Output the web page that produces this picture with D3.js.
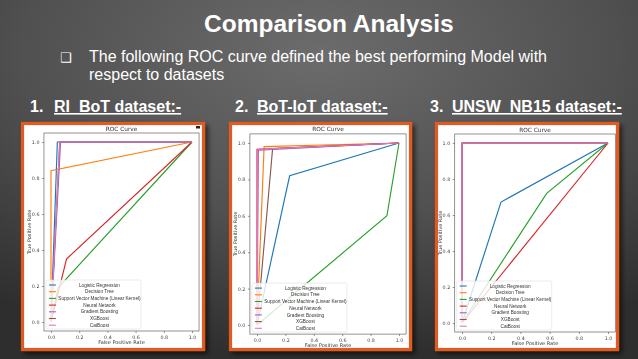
<!DOCTYPE html>
<html>
<head>
<meta charset="utf-8">
<script src="https://cdn.jsdelivr.net/npm/d3@7"></script>
<style>
html, body { margin: 0; padding: 0; background: #3a3a3a; overflow: hidden; }
svg { display: block; }
</style>
</head>
<body>
<div id="chart"></div>
<script>
const W = 638, H = 359;

// data
const models = ["Logistic Regression", "Decision Tree", "Support Vector Machine (Linear Kernel)",
  "Neural Network", "Gradient Boosting", "XGBoost", "CatBoost"];
const modelColors = ["#1f77b4", "#ff7f0e", "#2ca02c", "#d62728", "#9467bd", "#8c564b", "#e377c2"];
const headNumbers = ["1.", "2.", "3."];
const headNames = ["RI_BoT dataset:-", "BoT-IoT dataset:-", "UNSW_NB15 dataset:-"];
const rocTicks = [0, 0.2, 0.4, 0.6, 0.8, 1.0];

// [fpr, tpr] points, one list per model
const riBotCurves = [
  [[0, 0], [0.045, 1], [1, 1]],
  [[0, 0], [0, 0.84], [1, 1]],
  [[0, 0], [0.05, 0.19], [1, 1]],
  [[0, 0], [0.11, 0.35], [1, 1]],
  [[0, 0], [0.068, 1], [1, 1]],
  [[0, 0], [0.062, 1], [1, 1]],
  [[0, 0], [0.062, 1], [1, 1]]
];
const botIotCurves = [
  [[0, 0], [0.23, 0.82], [1, 1]],
  [[0, 0], [0.05, 0.98], [1, 1]],
  [[0, 0], [0.915, 0.6], [1, 1]],
  [[0, 0], [0.0, 0.965], [1, 1]],
  [[0, 0], [0.01, 0.96], [1, 1]],
  [[0, 0], [0.11, 0.97], [1, 1]],
  [[0, 0], [0.005, 0.965], [1, 1]]
];
const unswCurves = [
  [[0, 0], [0.267, 0.672], [1, 1]],
  [[0, 0], [0, 1], [1, 1]],
  [[0, 0], [0.58, 0.72], [1, 1]],
  [[0, 0], [1, 1]],
  [[0, 0], [0, 1], [1, 1]],
  [[0, 0], [0, 1], [1, 1]],
  [[0, 0], [0, 1], [1, 1]]
];

// layout of the three pictures
const panels = [
  { curves: riBotCurves, bx: 21, by: 122, bw: 184, bh: 229, x0: 51, x1: 192, y0: 322, y1: 142, hx: 30, nx: 54, mark: true },
  { curves: botIotCurves, bx: 229, by: 122, bw: 183, bh: 229, x0: 257, x1: 399, y0: 325, y1: 143, hx: 235, nx: 257 },
  { curves: unswCurves, bx: 435, by: 122, bw: 184, bh: 229, x0: 462, x1: 608, y0: 323, y1: 143, hx: 430, nx: 452 }
];

const svg = d3.select("#chart").append("svg")
  .attr("width", W)
  .attr("height", H);

const defs = svg.append("defs");
const grad = defs.append("radialGradient")
  .attr("id", "bg")
  .attr("cx", "50%").attr("cy", "15%").attr("r", "85%");
grad.append("stop").attr("offset", "0%").attr("stop-color", "#6c6c6c");
grad.append("stop").attr("offset", "55%").attr("stop-color", "#505050");
grad.append("stop").attr("offset", "100%").attr("stop-color", "#2e2e2e");

const shadow = defs.append("filter").attr("id", "shadow")
  .attr("x", "-10%").attr("y", "-10%").attr("width", "125%").attr("height", "125%");
shadow.append("feDropShadow")
  .attr("dx", 3).attr("dy", 3).attr("stdDeviation", 2.5)
  .attr("flood-color", "#000").attr("flood-opacity", 0.6);

const soft = defs.append("filter").attr("id", "soft");
soft.append("feGaussianBlur").attr("stdDeviation", 0.25);

svg.append("rect").attr("width", W).attr("height", H).attr("fill", "url(#bg)");

// slide texts
svg.append("text")
  .attr("x", 204).attr("y", 32)
  .attr("font-family", "Liberation Sans, Arial, sans-serif")
  .attr("font-weight", "bold").attr("font-size", 24.5)
  .attr("fill", "#fff")
  .text("Comparison Analysis");

svg.append("text")
  .attr("x", 60).attr("y", 62)
  .attr("font-family", "DejaVu Sans, sans-serif")
  .attr("font-size", 13)
  .attr("fill", "#fff")
  .text("\u2751");

svg.append("text")
  .attr("x", 89).attr("y", 62)
  .attr("font-family", "Liberation Sans, Arial, sans-serif")
  .attr("font-size", 16).attr("fill", "#fff")
  .text("The following ROC curve defined the best performing Model with");
svg.append("text")
  .attr("x", 89).attr("y", 80)
  .attr("font-family", "Liberation Sans, Arial, sans-serif")
  .attr("font-size", 16).attr("fill", "#fff")
  .text("respect to datasets");

panels.forEach(function(p, i) {
  svg.append("text")
    .attr("x", p.hx).attr("y", 112)
    .attr("font-family", "Liberation Sans, Arial, sans-serif")
    .attr("font-weight", "bold").attr("font-size", 16).attr("fill", "#fff")
    .text(headNumbers[i]);
  svg.append("text")
    .attr("x", p.nx).attr("y", 112)
    .attr("font-family", "Liberation Sans, Arial, sans-serif")
    .attr("font-weight", "bold").attr("font-size", 16).attr("fill", "#fff")
    .style("text-decoration", "underline")
    .text(headNames[i]);
});

// one ROC picture
function drawPanel(p) {
  var g = svg.append("g");
  g.append("rect")
    .attr("x", p.bx + 1.5).attr("y", p.by + 1.5)
    .attr("width", p.bw - 3).attr("height", p.bh - 3)
    .attr("fill", "#fff")
    .attr("stroke", "#e05a24").attr("stroke-width", 3.2)
    .attr("filter", "url(#shadow)");
  if (p.mark) {
    g.append("rect")
      .attr("x", p.bx + p.bw - 9).attr("y", p.by + 4)
      .attr("width", 4).attr("height", 2.5)
      .attr("fill", "#222");
  }

  var x = d3.scaleLinear().domain([0, 1]).range([p.x0, p.x1]);
  var y = d3.scaleLinear().domain([0, 1]).range([p.y0, p.y1]);
  var fl = x(-0.05), fr = x(1.05), ft = y(1.05), fb = y(-0.05);

  var inner = g.append("g").attr("filter", "url(#soft)");

  var line = d3.line()
    .x(function(d) { return x(d[0]); })
    .y(function(d) { return y(d[1]); });

  inner.append("g").selectAll("path")
    .data(p.curves)
    .enter()
    .append("path")
    .attr("d", line)
    .attr("fill", "none")
    .attr("stroke", function(d, i) { return modelColors[i]; })
    .attr("stroke-width", 1.15);

  inner.append("rect")
    .attr("x", fl).attr("y", ft)
    .attr("width", fr - fl).attr("height", fb - ft)
    .attr("fill", "none").attr("stroke", "#666").attr("stroke-width", 0.7);

  var xAxis = inner.append("g")
    .attr("transform", "translate(0," + fb + ")")
    .call(d3.axisBottom(x).tickValues(rocTicks).tickFormat(d3.format(".1f")).tickSize(2).tickPadding(2.5));
  var yAxis = inner.append("g")
    .attr("transform", "translate(" + fl + ",0)")
    .call(d3.axisLeft(y).tickValues(rocTicks).tickFormat(d3.format(".1f")).tickSize(2).tickPadding(2.5));
  [xAxis, yAxis].forEach(function(a) {
    a.select(".domain").remove();
    a.selectAll("line").attr("stroke", "#555").attr("stroke-width", 0.6);
    a.selectAll("text")
      .attr("font-family", "DejaVu Sans, sans-serif")
      .attr("font-size", 4.8).attr("fill", "#444");
  });

  inner.append("text")
    .attr("x", (fl + fr) / 2).attr("y", ft - 2.5)
    .attr("text-anchor", "middle")
    .attr("font-family", "DejaVu Sans, sans-serif")
    .attr("font-size", 5.8).attr("fill", "#333")
    .text("ROC Curve");
  inner.append("text")
    .attr("x", (fl + fr) / 2).attr("y", fb + 13)
    .attr("text-anchor", "middle")
    .attr("font-family", "DejaVu Sans, sans-serif")
    .attr("font-size", 5).attr("fill", "#333")
    .text("False Positive Rate");
  inner.append("text")
    .attr("transform", "translate(" + (fl - 12.5) + "," + ((ft + fb) / 2) + ") rotate(-90)")
    .attr("text-anchor", "middle")
    .attr("font-family", "DejaVu Sans, sans-serif")
    .attr("font-size", 5).attr("fill", "#333")
    .text("True Positive Rate");

  // legend
  var lw = 95, lh = 49, lx = fl + 2, ly = fb - 2 - lh;
  var leg = inner.append("g");
  leg.append("rect")
    .attr("x", lx).attr("y", ly).attr("width", lw).attr("height", lh)
    .attr("rx", 1.5)
    .attr("fill", "#fff").attr("fill-opacity", 0.8)
    .attr("stroke", "#ddd").attr("stroke-width", 0.6);
  var rows = leg.selectAll("g")
    .data(models)
    .enter()
    .append("g")
    .attr("transform", function(d, i) { return "translate(0," + (ly + 5 + i * 6.7) + ")"; });
  rows.append("line")
    .attr("x1", lx + 3).attr("x2", lx + 10)
    .attr("stroke", function(d, i) { return modelColors[i]; })
    .attr("stroke-width", 1.1);
  rows.append("text")
    .attr("x", lx + lw / 2 + 6).attr("y", 1.6)
    .attr("text-anchor", "middle")
    .attr("font-family", "Liberation Sans, Arial, sans-serif")
    .attr("font-size", 4.7).attr("fill", "#333")
    .text(function(d) { return d; });
}

panels.forEach(drawPanel);
</script>
</body>
</html>
